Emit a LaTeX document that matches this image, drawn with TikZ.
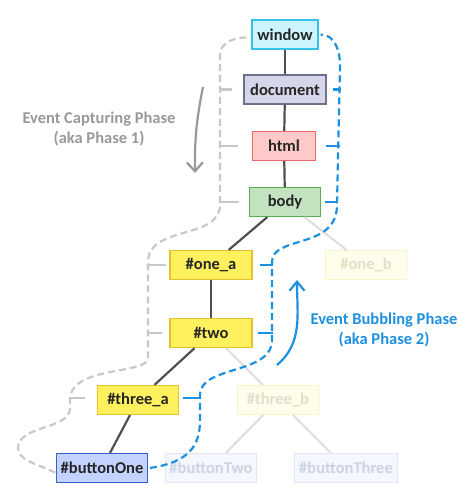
\documentclass[tikz,border=0pt]{standalone}
\usepackage{fontspec}
\setmainfont{Carlito}
\usetikzlibrary{arrows.meta}

\definecolor{winfill}{HTML}{CCF4FC}
\definecolor{winline}{HTML}{33C3E6}
\definecolor{docfill}{HTML}{D6D6EA}
\definecolor{docline}{HTML}{6F6F8F}
\definecolor{htmlfill}{HTML}{FFC9C9}
\definecolor{htmlline}{HTML}{E66B6B}
\definecolor{bodyfill}{HTML}{C2E2C0}
\definecolor{bodyline}{HTML}{5BAA56}
\definecolor{yelfill}{HTML}{FFF15E}
\definecolor{yelline}{HTML}{E6C12E}
\definecolor{paleyelfill}{HTML}{FFFDEB}
\definecolor{paleyelline}{HTML}{FBF3CC}
\definecolor{paleyeltext}{HTML}{E2DFC8}
\definecolor{btnfill}{HTML}{C3D2FF}
\definecolor{btnline}{HTML}{3B5FD0}
\definecolor{palebtnfill}{HTML}{F5F7FF}
\definecolor{palebtnline}{HTML}{E0E6F5}
\definecolor{palebtntext}{HTML}{CDD3E2}
\definecolor{edgedark}{HTML}{505050}
\definecolor{edgelight}{HTML}{DDDDDD}
\definecolor{capgray}{HTML}{C8C8C8}
\definecolor{captext}{HTML}{999999}
\definecolor{bubblue}{HTML}{1E90E0}

\begin{document}
\begin{tikzpicture}[x=1pt, y=-1pt,
    elem/.style={draw, line width=1.2pt, minimum height=29pt, inner xsep=4pt,
        font=\fontsize{16.5}{20}\selectfont\bfseries, text=black!85},
    active/.style={elem, fill=yelfill, draw=yelline, minimum width=82pt},
    faded/.style={elem, fill=paleyelfill, draw=paleyelline, text=paleyeltext, minimum width=81pt},
    fadedbtn/.style={elem, fill=palebtnfill, draw=palebtnline, text=palebtntext},
    edge/.style={draw=edgedark, line width=2.2pt},
    paleedge/.style={draw=edgelight, line width=2pt},
    capture/.style={draw=capgray, line width=2.2pt, dash pattern=on 7pt off 4pt},
    bubble/.style={draw=bubblue, line width=2.2pt, dash pattern=on 7pt off 4pt},
    captick/.style={draw=capgray, line width=2.2pt},
    bubtick/.style={draw=bubblue, line width=2.2pt},
    phase/.style={font=\fontsize{16.5}{20}\selectfont\bfseries, align=center}
]
    \useasboundingbox (0,0) rectangle (474,503);

    % DOM tree
    \node[elem, fill=winfill, draw=winline, minimum width=66pt] (window) at (285,34.5) {window};
    \node[elem, fill=docfill, draw=docline, minimum width=82pt] (document) at (285,89.5) {document};
    \node[elem, fill=htmlfill, draw=htmlline, minimum width=63pt] (html) at (284,146) {html};
    \node[elem, fill=bodyfill, draw=bodyline, minimum width=71pt] (body) at (285,202) {body};
    \node[active] (one_a) at (211,265) {\#one\_a};
    \node[faded] (one_b) at (366,265) {\#one\_b};
    \node[active] (two) at (211,333) {\#two};
    \node[active, minimum width=81pt] (three_a) at (138,400) {\#three\_a};
    \node[faded] (three_b) at (278,400) {\#three\_b};
    \node[elem, fill=btnfill, draw=btnline, minimum width=88pt] (buttonOne) at (102,468) {\#buttonOne};
    \node[fadedbtn, minimum width=87pt] (buttonTwo) at (211,468) {\#buttonTwo};
    \node[fadedbtn, minimum width=103pt] (buttonThree) at (346,468) {\#buttonThree};

    % Tree edges
    \draw[edge] (window) -- (document);
    \draw[edge] (document) -- (html);
    \draw[edge] (html) -- (body);
    \draw[edge] (body) -- (one_a);
    \draw[edge] (one_a) -- (two);
    \draw[edge] (two) -- (three_a);
    \draw[edge] (three_a) -- (buttonOne);
    \draw[paleedge] (body) -- (one_b);
    \draw[paleedge] (two) -- (three_b);
    \draw[paleedge] (three_b) -- (buttonTwo);
    \draw[paleedge] (three_b) -- (buttonThree);

    % Capturing path
    \draw[capture] ([xshift=-5pt, yshift=-3pt]window.west) to[out=180, in=90] (220,55)
        -- (220,205) .. controls (220,240) and (148,225) .. (148,262)
        -- (148,358) .. controls (148,375) and (70,365) .. (70,400)
        -- (70,408) .. controls (70,430) and (18,425) .. (18,448)
        .. controls (18,460) and (35,463) .. ([yshift=-5pt]buttonOne.west);
    \draw[captick] ([xshift=-11pt]document.west) -- +(-13pt,0);
    \draw[captick] ([xshift=-14pt]html.west) -- +(-18pt,0);
    \draw[captick] ([xshift=-10pt]body.west) -- +(-20pt,0);
    \draw[captick] ([xshift=-3pt]one_a.west) -- +(-19pt,0);
    \draw[captick] ([xshift=-7pt]two.west) -- +(-15pt,0);
    \draw[captick] ([xshift=-12pt, yshift=2pt]three_a.west) -- +(-16pt,0);

    % Bubbling path
    \draw[bubble] ([xshift=2pt]buttonOne.east) .. controls (190,462) and (200,445) .. (200,420)
        -- (200,395) .. controls (200,365) and (272,375) .. (272,340)
        -- (272,262) .. controls (272,235) and (337,250) .. (337,205)
        -- (340,65) to[out=90, in=0] ([xshift=2pt]window.east);
    \draw[bubtick] ([xshift=6pt]document.east) -- +(8pt,0);
    \draw[bubtick] ([xshift=10pt]html.east) -- +(14pt,0);
    \draw[bubtick] ([xshift=4pt]body.east) -- +(12pt,0);
    \draw[bubtick] ([xshift=7pt]one_a.east) -- +(13pt,0);
    \draw[bubtick] ([xshift=5pt]two.east) -- +(15pt,0);
    \draw[bubtick] ([xshift=4pt, yshift=2pt]three_a.east) -- +(17pt,0);

    % Phase labels
    \node[phase, text=captext] (caplabel) at (99,129) {Event Capturing Phase\\(aka Phase 1)};
    \draw[draw=captext, line width=2.2pt, -{Straight Barb[length=9pt, width=16pt]}]
        (203,87) to[bend right=6] (195,173);
    \node[phase, text=bubblue] (bublabel) at (384,330) {Event Bubbling Phase\\(aka Phase 2)};
    \draw[draw=bubblue, line width=2.2pt, -{Straight Barb[length=9pt, width=15pt]}]
        (277,365) to[out=40, in=-90] (297,280);

\end{tikzpicture}
\end{document}
